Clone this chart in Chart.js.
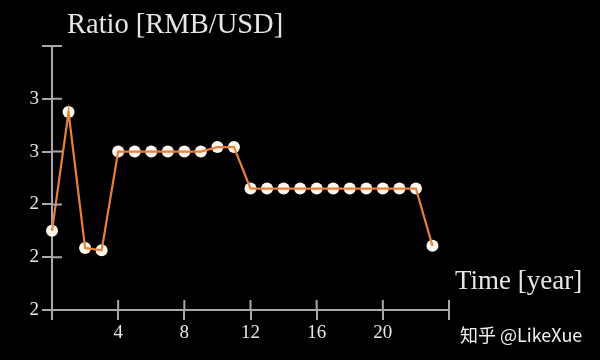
<!DOCTYPE html>
<html><head><meta charset="utf-8">
<script src="https://cdn.jsdelivr.net/npm/chart.js@4"></script>
<style>html,body{margin:0;padding:0;background:#000;}#wrap{width:600px;height:360px;}</style>
</head><body><div id="wrap"><canvas id="c" width="600" height="360"></canvas></div>
<script>
const years = [0,1,2,3,4,5,6,7,8,9,10,11,12,13,14,15,16,17,18,19,20,21,22,23];
const ratio = [2.30,2.75,2.235,2.226,2.60,2.60,2.60,2.60,2.60,2.60,2.617,2.617,2.46,2.46,2.46,2.46,2.46,2.46,2.46,2.46,2.46,2.46,2.46,2.243];
const yTitle = 'Ratio [RMB/USD]';
const xTitle = 'Time [year]';
const watermark = '知乎 @LikeXue';

const pts = years.map((x,i)=>({x:x,y:ratio[i]}));
const AX = '#a8a8a8', TXT = '#e6e6e6', SERIF = '"Liberation Serif", "DejaVu Serif", serif';

const extras = {
  id:'extras',
  afterDraw(chart){
    const ctx = chart.ctx, a = chart.chartArea;
    const xs = chart.scales.x, ys = chart.scales.y;
    ctx.save();
    ctx.strokeStyle = AX; ctx.lineWidth = 2;
    ctx.beginPath();
    ys.ticks.forEach(t=>{const p=ys.getPixelForValue(t.value); ctx.moveTo(a.left,p); ctx.lineTo(a.left+10,p);});
    xs.ticks.forEach(t=>{const p=xs.getPixelForValue(t.value); ctx.moveTo(p,a.bottom); ctx.lineTo(p,a.bottom-10);});
    ctx.stroke();
    ctx.fillStyle = TXT;
    ctx.textBaseline = 'middle';
    ctx.textAlign = 'left';
    ctx.font = '28.5px ' + SERIF;
    ctx.fillText(yTitle, 67, 26);
    ctx.font = '27px ' + SERIF;
    ctx.fillText(xTitle, 455, 282);
    ctx.font = '18px "Noto Sans CJK SC", "Noto Sans", sans-serif';
    ctx.fillStyle = '#f0f0f0';
    ctx.fillText(watermark, 460, 335);
    ctx.restore();
  }
};

new Chart(document.getElementById('c'), {
  type:'line',
  data:{datasets:[
    {data:pts, borderColor:'#e8803a', borderWidth:2.2, pointRadius:0, tension:0, order:0, clip:false},
    {data:pts, showLine:false, pointRadius:6, pointBackgroundColor:'#fff6ec', pointBorderWidth:0, order:1, clip:false}
  ]},
  options:{
    responsive:false, animation:false,
    layout:{padding:{top:46,right:151,left:0,bottom:0}},
    plugins:{legend:{display:false},tooltip:{enabled:false}},
    scales:{
      x:{type:'linear',min:0,max:24,
        afterFit(s){s.height=50;},
        border:{color:AX,width:2},
        grid:{drawOnChartArea:false,color:AX,lineWidth:2,tickLength:10},
        ticks:{stepSize:4,autoSkip:false,maxRotation:0,color:TXT,padding:2,font:{family:SERIF,size:19},
          callback:(v)=> (v===0||v===24)?'':String(v)}},
      y:{type:'linear',min:2,max:3,
        afterFit(s){s.width=52;},
        border:{color:AX,width:2},
        grid:{drawOnChartArea:false,color:AX,lineWidth:2,tickLength:10},
        ticks:{stepSize:0.2,autoSkip:false,color:TXT,padding:3,font:{family:SERIF,size:19},
          callback:(v)=> v>2.99?'':String(Math.round(v))}}
    }
  },
  plugins:[extras]
});
</script></body></html>
